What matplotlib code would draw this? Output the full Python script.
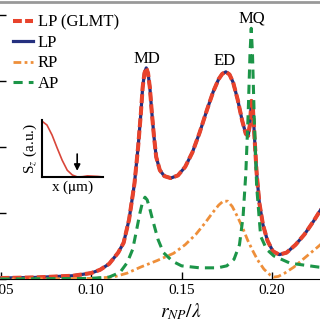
import matplotlib
matplotlib.use('Agg')
import matplotlib.pyplot as plt

plt.rcParams['font.family'] = ['Liberation Serif', 'DejaVu Serif']
plt.rcParams['mathtext.fontset'] = 'stix'

# main spectra
x_lp = [0.05, 0.07, 0.09, 0.10, 0.105, 0.11, 0.115, 0.118, 0.121, 0.124, 0.126,
        0.1275, 0.1285, 0.1295, 0.1305, 0.1315, 0.1325, 0.1335, 0.1348, 0.136,
        0.138, 0.1405, 0.144, 0.148, 0.152, 0.156, 0.16, 0.164, 0.1675, 0.1705,
        0.1725, 0.1745, 0.1765, 0.1785, 0.181, 0.1835, 0.1855, 0.1868, 0.1878,
        0.1886, 0.1894, 0.1903, 0.1915, 0.193, 0.195, 0.1975, 0.2005, 0.204,
        0.208, 0.213, 0.218, 0.223, 0.228, 0.24]
y_lp = [0.015, 0.025, 0.05, 0.09, 0.14, 0.23, 0.4, 0.55, 0.9, 1.45, 2.0,
        2.5, 2.9, 3.12, 3.2, 3.12, 2.9, 2.55, 2.15, 1.85,
        1.65, 1.56, 1.53, 1.57, 1.7, 1.92, 2.22, 2.56, 2.84, 3.03,
        3.11, 3.14, 3.1, 2.98, 2.72, 2.4, 2.2, 2.17, 2.35,
        2.7, 2.6, 2.15, 1.6, 1.15, 0.82, 0.58, 0.42, 0.37,
        0.4, 0.52, 0.68, 0.88, 1.1, 1.6]

x_rp = [0.05, 0.08, 0.10, 0.106, 0.1124, 0.12, 0.1273, 0.1365, 0.1456, 0.152,
        0.158, 0.163, 0.167, 0.1705, 0.173, 0.1755, 0.178, 0.181, 0.184, 0.1865,
        0.1895, 0.192, 0.1955, 0.199, 0.201, 0.2035, 0.207, 0.212, 0.218, 0.225, 0.23, 0.24]
y_rp = [0.0, 0.005, 0.01, 0.02, 0.03, 0.09, 0.18, 0.28, 0.39, 0.52,
        0.68, 0.85, 1.0, 1.12, 1.18, 1.18, 1.1, 0.94, 0.76, 0.59,
        0.42, 0.29, 0.15, 0.06, 0.03, 0.04, 0.09, 0.18, 0.32, 0.48, 0.6, 0.85]

x_ap = [0.05, 0.10, 0.11, 0.116, 0.12, 0.123, 0.125, 0.127, 0.1285, 0.1298, 0.131,
        0.1325, 0.134, 0.137, 0.14, 0.145, 0.15, 0.16, 0.17, 0.175, 0.179, 0.182,
        0.184, 0.1855, 0.1868, 0.1878, 0.1885, 0.1892, 0.1902, 0.1915, 0.1937,
        0.197, 0.201, 0.21, 0.226, 0.24]
y_ap = [0.0, 0.01, 0.03, 0.1, 0.25, 0.45, 0.72, 1.0, 1.17, 1.24, 1.2,
        1.06, 0.9, 0.6, 0.4, 0.27, 0.2, 0.17, 0.17, 0.2, 0.3, 0.52,
        0.95, 1.6, 2.5, 3.4, 3.8, 3.4, 2.4, 1.4, 0.65,
        0.45, 0.35, 0.24, 0.18, 0.15]

# inset beam profile
x_in = [0, 0.083, 0.167, 0.25, 0.333, 0.417, 0.5, 0.583, 0.667, 0.75, 0.833, 0.917, 1.0]
y_in = [1.0, 0.93, 0.75, 0.52, 0.3, 0.12, 0.035, 0.0, 0.005, 0.02, 0.015, 0.01, 0.0]

peaks = ['MD', 'ED', 'MQ']
peak_pos = [(0.1309, 3.33), (0.174, 3.30), (0.189, 3.95)]
xticks = [0.05, 0.10, 0.15, 0.20]

RED = '#e8432c'
NAVY = '#25307f'
ORANGE = '#ee8f3a'
GREEN = '#1c9548'

fig = plt.figure(figsize=(3.2, 3.2), dpi=100)
ax = fig.add_axes([-0.004, 0.128, 1.137, 0.866])
ax.set_xlim(0.049, 0.25)
ax.set_ylim(0, 4.2)

ax.plot(x_lp, y_lp, color=NAVY, lw=2.3, label='LP', zorder=2)
ax.plot(x_lp, y_lp, color=RED, lw=2.9, dashes=(2.2, 0.8), label='LP (GLMT)', zorder=3)
ax.plot(x_rp, y_rp, color=ORANGE, lw=2.0, dashes=(2.8, 1.2, 1.0, 1.2), label='RP', zorder=4)
ax.plot(x_ap, y_ap, color=GREEN, lw=2.2, dashes=(3, 2), label='AP', zorder=5)

for name, (px, py) in zip(peaks, peak_pos):
    ax.text(px, py, name, ha='center', va='center', fontsize=12)

ax.set_xticks(xticks)
ax.set_xticklabels(['0.05', '0.10', '0.15', '0.20'], fontsize=11)
ax.set_yticks([0, 1, 2, 3, 4])
ax.set_yticklabels([])
ax.tick_params(direction='in', length=5, width=1)
ax.spines['top'].set_color('#999999')
ax.spines['top'].set_linewidth(2)
ax.set_xlabel(r'$r_{NP}/\lambda$', fontsize=14, labelpad=3)

handles, labels = ax.get_legend_handles_labels()
order = [1, 0, 2, 3]
ax.legend([handles[i] for i in order], [labels[i] for i in order],
          loc='upper left', bbox_to_anchor=(0.04, 0.955), bbox_transform=fig.transFigure,
          frameon=False, fontsize=12, handlelength=1.2, handletextpad=0.3,
          labelspacing=0.27, borderaxespad=0, borderpad=0)

# inset
ins = fig.add_axes([0.131, 0.447, 0.19, 0.178])
ins.plot(x_in, y_in, color='#d9463a', lw=1.2)
ins.annotate('', xy=(0.58, 0.06), xytext=(0.58, 0.46),
             arrowprops=dict(arrowstyle='-|>', color='black', lw=1.2, mutation_scale=9))
ins.set_xlim(0, 1.0)
ins.set_ylim(0, 1.02)
ins.set_xticks([])
ins.set_yticks([])
ins.spines['top'].set_visible(False)
ins.spines['right'].set_visible(False)
ins.spines['left'].set_linewidth(1.5)
ins.spines['bottom'].set_linewidth(1.5)
ins.patch.set_alpha(0)
ins.set_xlabel(r'x ($\mathrm{\mu}$m)', fontsize=11, labelpad=1)
ins.set_ylabel(r'S$_z$ (a.u.)', fontsize=11, labelpad=2)

fig.savefig('out.png', dpi=100)
